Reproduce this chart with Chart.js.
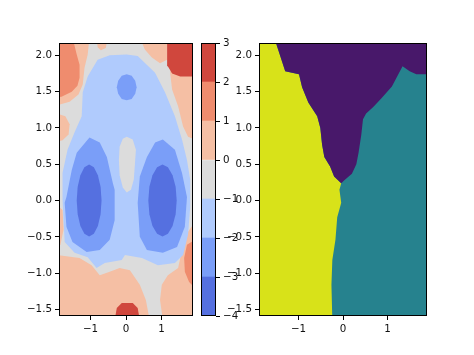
<!DOCTYPE html>
<html><head><meta charset="utf-8">
<script src="https://cdn.jsdelivr.net/npm/chart.js@4.4.0/dist/chart.umd.min.js"></script>
<style>
html,body{margin:0;padding:0;background:#fff;}
#wrap{position:relative;width:474px;height:355px;overflow:hidden;}
canvas{position:absolute;left:0;top:0;}
</style></head><body>
<div id="wrap">
<canvas id="c1" width="474" height="355"></canvas>
<canvas id="c2" width="474" height="355"></canvas>
<canvas id="c3" width="474" height="355"></canvas>
</div>
<script>
// ---------- axis data ----------
const xRange = [-1.89, 1.89];
const yRange = [-1.59, 2.17];
const xTicks = [-1, 0, 1];
const xTickLabels = ['\u22121', '0', '1'];
const yTicks = [-1.5, -1.0, -0.5, 0.0, 0.5, 1.0, 1.5, 2.0];
const yTickLabels = ['\u22121.5', '\u22121.0', '\u22120.5', '0.0', '0.5', '1.0', '1.5', '2.0'];
const levels = [-4, -3, -2, -1, 0, 1, 2, 3];
const levelLabels = ['\u22124', '\u22123', '\u22122', '\u22121', '0', '1', '2', '3'];
const levelColors = ['#5570e0', '#7a9ef8', '#b0cbfd', '#dcdcdc', '#f5bfa4', '#ef8c6e', '#d0473d'];

// ---------- left panel: filled contour regions (data units) ----------
const baseRect = [[-1.95,2.25],[1.95,2.25],[1.95,-1.65],[-1.95,-1.65]];
const greyMain = [[-1.95,2.25],[1.95,2.25],[1.95,-0.29],[1.69,-0.47],[1.55,-0.75],[1.47,-0.93],[1.18,-1.03],[1.01,-1.16],[0.96,-1.37],[1.04,-1.65],[0.67,-1.65],[0.56,-1.37],[0.39,-1.16],[0.11,-0.96],[-0.18,-0.93],[-0.46,-0.98],[-0.74,-1.03],[-0.97,-0.89],[-1.31,-0.79],[-1.95,-0.75]];
const salmonTL = [[-1.95,2.25],[-1.03,2.25],[-1.08,2.01],[-1.17,1.83],[-1.22,1.6],[-1.34,1.46],[-1.59,1.36],[-1.95,1.31]];
const salmonTop = [[-0.83,2.25],[-0.52,2.25],[-0.57,2.10],[-0.71,2.07],[-0.80,2.11]];
const salmonLeft = [[-1.95,1.2],[-1.71,1.16],[-1.59,1.05],[-1.62,0.91],[-1.79,0.83],[-1.95,0.81]];
const salmonTR = [[0.39,2.25],[1.16,2.25],[1.16,1.94],[0.96,1.89],[0.73,1.97],[0.53,2.08]];
const salmonRight = [[1.95,1.8],[1.24,1.78],[1.30,1.53],[1.47,1.30],[1.61,1.02],[1.75,0.88],[1.95,0.84]];
const salmonEdge = [[-1.95,-0.06],[-1.79,-0.13],[-1.76,-0.40],[-1.85,-0.61],[-1.95,-0.65]];
const orangeTL = [[-1.95,2.25],[-1.51,2.25],[-1.39,2.01],[-1.31,1.87],[-1.31,1.69],[-1.37,1.58],[-1.53,1.50],[-1.82,1.43],[-1.95,1.42]];
const orangeRight = [[1.95,-0.54],[1.72,-0.61],[1.64,-0.79],[1.66,-0.98],[1.78,-1.12],[1.95,-1.21]];
const redTR = [[1.16,2.25],[1.95,2.25],[1.95,1.71],[1.53,1.71],[1.30,1.75],[1.18,1.85],[1.16,2.01]];
const redBottom = [[-0.32,-1.65],[-0.26,-1.48],[-0.12,-1.41],[0.19,-1.41],[0.33,-1.48],[0.39,-1.65]];
const lightBlue = [[0.02,2.01],[0.33,1.99],[0.82,1.76],[1.10,1.49],[1.38,1.16],[1.58,0.84],[1.72,0.56],[1.81,0.29],[1.81,-0.10],[1.75,-0.47],[1.61,-0.75],[1.38,-0.86],[0.90,-0.89],[0.45,-0.79],[-0.03,-0.75],[-0.12,-0.82],[-0.60,-0.86],[-0.83,-0.93],[-1.08,-0.78],[-1.45,-0.72],[-1.73,-0.57],[-1.79,0.01],[-1.79,0.38],[-1.65,0.70],[-1.45,0.94],[-1.25,1.16],[-1.22,1.49],[-1.08,1.71],[-0.80,1.94],[-0.46,2.00]];
const midBlueL = [[-1.03,0.87],[-0.74,0.80],[-0.54,0.60],[-0.37,0.24],[-0.32,0.15],[-0.32,-0.27],[-0.46,-0.54],[-0.74,-0.68],[-1.11,-0.71],[-1.51,-0.57],[-1.68,-0.36],[-1.73,-0.03],[-1.68,0.05],[-1.53,0.42],[-1.39,0.66]];
const midBlueR = [[1.04,0.84],[0.82,0.80],[0.59,0.60],[0.39,0.33],[0.33,-0.03],[0.39,-0.50],[0.59,-0.68],[1.04,-0.72],[1.44,-0.64],[1.66,-0.36],[1.72,0.05],[1.58,0.38],[1.38,0.70]];
const darkBlueL = [[-0.69,0],[-0.717,0.19],[-0.793,0.35],[-0.906,0.457],[-1.04,0.495],[-1.174,0.457],[-1.287,0.35],[-1.363,0.19],[-1.39,0],[-1.363,-0.19],[-1.287,-0.35],[-1.174,-0.457],[-1.04,-0.495],[-0.906,-0.457],[-0.793,-0.35],[-0.717,-0.19]];
const darkBlueR = [[1.43,0],[1.40,0.19],[1.313,0.35],[1.183,0.457],[1.03,0.495],[0.877,0.457],[0.747,0.35],[0.66,0.19],[0.63,0],[0.66,-0.19],[0.747,-0.35],[0.877,-0.457],[1.03,-0.495],[1.183,-0.457],[1.313,-0.35],[1.40,-0.19]];
const greyIsland = [[0.02,0.88],[0.19,0.84],[0.28,0.70],[0.25,0.49],[0.22,0.29],[0.14,0.15],[0.02,0.11],[-0.09,0.18],[-0.18,0.35],[-0.20,0.56],[-0.18,0.74],[-0.09,0.85]];
const blueTop = [[0.30,1.56],[0.26,1.65],[0.16,1.72],[0.02,1.74],[-0.12,1.72],[-0.22,1.65],[-0.26,1.56],[-0.22,1.47],[-0.12,1.40],[0.02,1.38],[0.16,1.40],[0.26,1.47]];

// painter's order (bottom -> top): [level band index, region]
const contourLayers = [
  [4, baseRect], [3, greyMain],
  [4, salmonTL], [4, salmonTop], [4, salmonLeft], [4, salmonTR], [4, salmonRight], [4, salmonEdge],
  [5, orangeTL], [5, orangeRight], [6, redTR], [6, redBottom],
  [2, lightBlue], [1, midBlueL], [1, midBlueR], [0, darkBlueL], [0, darkBlueR],
  [3, greyIsland], [1, blueTop]
];

// ---------- right panel: class regions (data units) ----------
const classColors = ['#48186a', '#26828e', '#d8e219'];
const classTeal = [[-1.95,2.25],[1.95,2.25],[1.95,-1.65],[-1.95,-1.65]];
const classYellow = [[-1.95,2.25],[-1.55,2.25],[-1.30,1.78],[-0.99,1.74],[-0.92,1.56],[-0.78,1.35],[-0.58,1.16],[-0.51,1.00],[-0.47,0.77],[-0.42,0.60],[-0.29,0.47],[-0.20,0.33],[-0.04,0.24],[-0.08,0.15],[-0.04,-0.03],[-0.13,-0.23],[-0.17,-0.54],[-0.24,-0.82],[-0.26,-1.16],[-0.24,-1.65],[-1.95,-1.65]];
const classPurple = [[-1.55,2.25],[1.95,2.25],[1.95,1.74],[1.65,1.74],[1.50,1.78],[1.34,1.85],[1.10,1.57],[0.85,1.40],[0.68,1.29],[0.52,1.20],[0.45,1.12],[0.41,0.90],[0.35,0.66],[0.30,0.50],[0.20,0.37],[0.03,0.28],[-0.04,0.24],[-0.20,0.33],[-0.29,0.47],[-0.42,0.60],[-0.47,0.77],[-0.51,1.00],[-0.58,1.16],[-0.78,1.35],[-0.92,1.56],[-0.99,1.74],[-1.30,1.78]];
const classLayers = [[1, classTeal], [2, classYellow], [0, classPurple]];

// ---------- helpers ----------
const FONT = {family: 'DejaVu Sans', size: 10.3};
const TXT = '#111';
Chart.defaults.font.family = FONT.family;

function polyDataset(poly, color) {
  return {
    type: 'line',
    data: poly.map(p => ({x: p[0], y: p[1]})),
    backgroundColor: color,
    borderColor: 'rgba(0,0,0,0)',
    borderWidth: 0,
    fill: 'shape',
    pointRadius: 0,
    tension: 0
  };
}
function layeredDatasets(layers, colors) {
  // first dataset is drawn on top in Chart.js, so reverse painter's order
  return layers.map(l => polyDataset(l[1], colors[l[0]])).reverse();
}
const framePlugin = {
  id: 'frame',
  afterDraw(chart) {
    const {ctx, chartArea: a} = chart;
    ctx.save();
    ctx.strokeStyle = '#000';
    ctx.lineWidth = 1;
    ctx.strokeRect(a.left + 0.5, a.top + 0.5, a.right - a.left - 1, a.bottom - a.top - 1);
    ctx.restore();
  }
};
function tickAxis(opts) {
  return Object.assign({
    grid: {drawOnChartArea: false, drawTicks: true, tickLength: 4, color: '#000', lineWidth: 1},
    border: {display: false}
  }, opts);
}
function makePanel(canvasId, datasets, padLeft, yWidth, padRight) {
  return new Chart(document.getElementById(canvasId), {
    type: 'line',
    data: {datasets},
    plugins: [framePlugin],
    options: {
      responsive: false, animation: false, events: [],
      layout: {padding: {left: padLeft, right: padRight, top: 43, bottom: 0}},
      plugins: {legend: {display: false}, tooltip: {enabled: false}},
      scales: {
        x: tickAxis({
          type: 'linear', min: xRange[0], max: xRange[1],
          afterBuildTicks: s => { s.ticks = xTicks.map(v => ({value: v})); },
          afterFit: s => { s.height = 39; },
          ticks: {autoSkip: false, maxRotation: 0, padding: 3, color: TXT, font: FONT,
                  callback: (v, i) => xTickLabels[i]}
        }),
        y: tickAxis({
          type: 'linear', min: yRange[0], max: yRange[1],
          afterBuildTicks: s => { s.ticks = yTicks.map(v => ({value: v})); },
          afterFit: s => { s.width = yWidth; },
          ticks: {autoSkip: false, padding: 3, color: TXT, font: FONT,
                  callback: (v, i) => yTickLabels[i]}
        })
      }
    }
  });
}

// left contour panel: plot area x 59..193
makePanel('c1', layeredDatasets(contourLayers, levelColors), 0, 59, 474 - 193);

// colorbar: plot area x 201..216
new Chart(document.getElementById('c2'), {
  type: 'bar',
  data: {
    labels: [''],
    datasets: levelColors.map((c, i) => ({
      data: [[levels[i], levels[i + 1]]],
      backgroundColor: c, borderWidth: 0,
      barPercentage: 1, categoryPercentage: 1, grouped: false
    }))
  },
  plugins: [framePlugin],
  options: {
    responsive: false, animation: false, events: [],
    layout: {padding: {left: 201, right: 474 - 216 - 40, top: 43, bottom: 39}},
    plugins: {legend: {display: false}, tooltip: {enabled: false}},
    scales: {
      x: {display: false},
      y: tickAxis({
        position: 'right', min: levels[0], max: levels[levels.length - 1],
        afterBuildTicks: s => { s.ticks = levels.map(v => ({value: v})); },
        afterFit: s => { s.width = 40; },
        ticks: {autoSkip: false, padding: 3, color: TXT, font: FONT,
                callback: (v, i) => levelLabels[i]}
      })
    }
  }
});

// right class panel: plot area x 259..427
makePanel('c3', layeredDatasets(classLayers, classColors), 200, 59, 474 - 427);
</script>
</body></html>
